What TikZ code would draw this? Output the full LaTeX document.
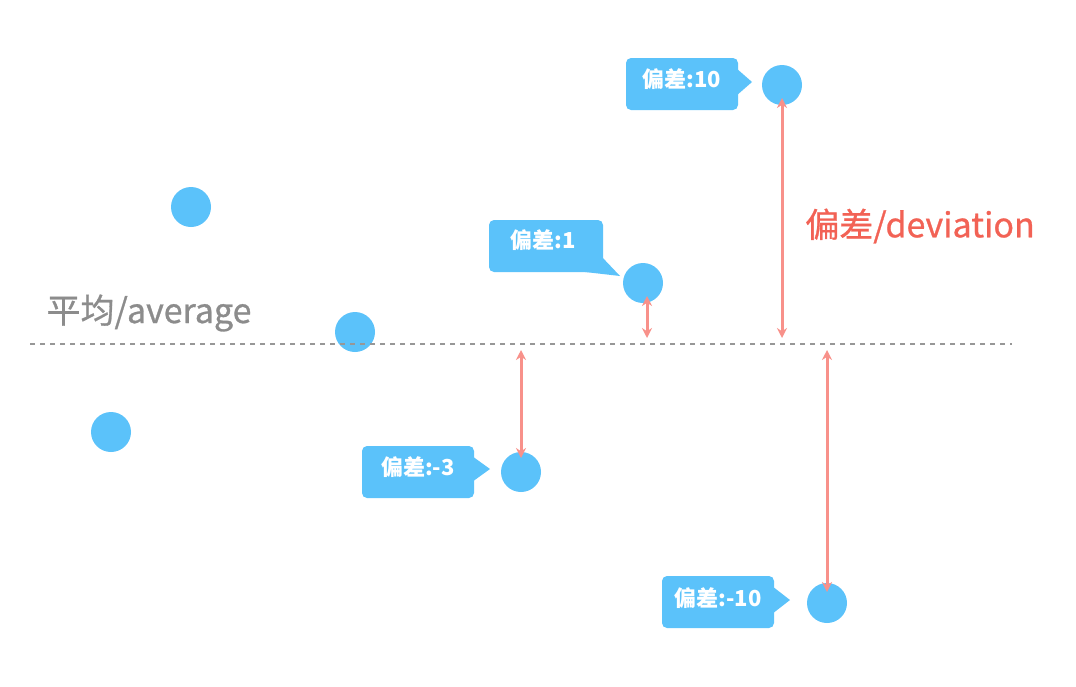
\documentclass[tikz,border=0pt]{standalone}
\usepackage{fontspec}
\setmainfont{Noto Sans CJK SC}
\newfontfamily\medfont[FakeBold=0.8]{Noto Sans CJK SC}
\usetikzlibrary{arrows.meta}
\definecolor{dotcol}{HTML}{5BC2FA}
\definecolor{arrcol}{HTML}{F8918A}
\definecolor{devcol}{HTML}{F26255}
\definecolor{avgcol}{HTML}{8C8C8C}
\begin{document}
\begin{tikzpicture}[x=1pt,y=-1pt,
  pt/.style={circle,fill=dotcol,minimum size=40pt,inner sep=0pt},
  devarrow/.style={draw=arrcol,line width=3pt,{Stealth[length=10pt,width=10pt]}-{Stealth[length=10pt,width=10pt]}},
  ctext/.style={text=white,font=\bfseries\fontsize{22}{22}\selectfont,inner sep=0pt},
  bub/.style={fill=dotcol,rounded corners=5pt}]
\useasboundingbox (0,0) rectangle (1076,686);
\node[pt] (p1) at (191,207) {};
\node[pt] (p2) at (355,332) {};
\node[pt] (p3) at (111,432) {};
\node[pt] (p4) at (782,85) {};
\node[pt] (p5) at (643,283) {};
\node[pt] (p6) at (521,472) {};
\node[pt] (p7) at (827,603) {};
\coordinate (l0) at (30,344);
\coordinate (l1) at (1012,344);
\draw[avgcol!90,line width=2pt,dash pattern=on 5pt off 5pt] (l0) -- (l1);
\coordinate (a4) at (782,338); \coordinate (a5) at (647,338);
\coordinate (a6) at (521,350); \coordinate (a7) at (827,350);
\draw[devarrow] (782,98) -- (a4);
\draw[devarrow] (647,296) -- (a5);
\draw[devarrow] (a6) -- (521,458);
\draw[devarrow] (a7) -- (827,592);
\node[text=devcol,font=\medfont\fontsize{34}{34}\selectfont,inner sep=0pt] (dl) at (920,226) {偏差/deviation};
\node[text=avgcol,font=\medfont\fontsize{34}{34}\selectfont,inner sep=0pt] (al) at (149,313) {平均/average};
% callouts
\fill[bub] (626,58) rectangle (738,110);
\fill[dotcol] (736,68) -- (752,82) -- (736,96) -- cycle;
\node[ctext] (c1) at (682,79) {偏差:10};
\fill[bub] (489,220) rectangle (603,272);
\fill[dotcol] (601,256) -- (620,276) -- (585,272) -- cycle;
\node[ctext] (c2) at (543,240) {偏差:1};
\fill[bub] (362,446) rectangle (474,498);
\fill[dotcol] (472,456) -- (490,469) -- (472,482) -- cycle;
\node[ctext] (c3) at (418,467) {偏差:-3};
\fill[bub] (662,576) rectangle (774,628);
\fill[dotcol] (772,586) -- (790,600) -- (772,614) -- cycle;
\node[ctext] (c4) at (718,598) {偏差:-10};
\end{tikzpicture}
\end{document}
